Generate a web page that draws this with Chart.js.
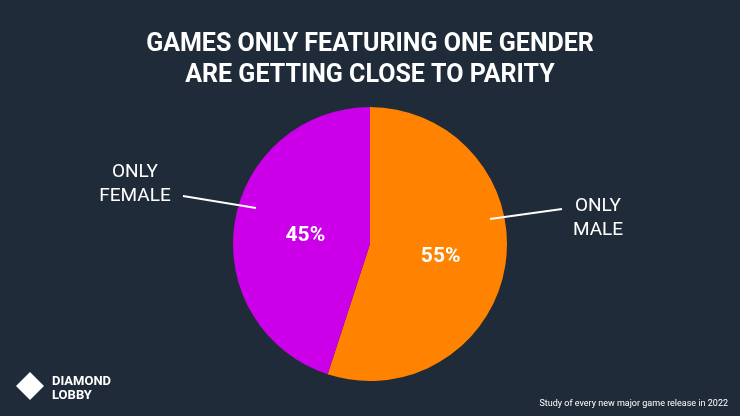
<!DOCTYPE html>
<html><head><meta charset="utf-8">
<script src="https://cdn.jsdelivr.net/npm/chart.js@4"></script>
<style>html,body{margin:0;padding:0;background:#1f2b39;}#w{width:740px;height:416px;position:relative}</style>
</head><body><div id="w"><canvas id="c"></canvas></div>
<script>
const categories = ["ONLY MALE", "ONLY FEMALE"];
const values = [55, 45];
const colors = ["#ff8200", "#cc00e8"];
const titleLines = ["GAMES ONLY FEATURING ONE GENDER", "ARE GETTING CLOSE TO PARITY"];
const note = "Study of every new major game release in 2022";

const overlay = {
  id: 'overlay',
  afterDraw(chart) {
    const ctx = chart.ctx;
    ctx.save();
    ctx.fillStyle = '#fff';
    ctx.textAlign = 'center';
    ctx.textBaseline = 'middle';
    ctx.font = 'bold 25px Roboto';
    ctx.fillText(titleLines[0], 370, 45);
    ctx.fillText(titleLines[1], 370, 76);
    const meta = chart.getDatasetMeta(0);
    ctx.font = 'bold 21px Roboto';
    meta.data.forEach((arc, i) => {
      const a = (arc.startAngle + arc.endAngle) / 2;
      const r = arc.outerRadius * 0.5;
      ctx.fillText(values[i] + '%', arc.x + Math.cos(a) * r + 3, arc.y + Math.sin(a) * r + 2);
    });
    ctx.font = '19px Roboto';
    ctx.fillText('ONLY', 598, 206);
    ctx.fillText('MALE', 598, 230);
    ctx.fillText('ONLY', 135, 172);
    ctx.fillText('FEMALE', 135, 196);
    ctx.strokeStyle = '#fff';
    ctx.lineWidth = 2;
    ctx.beginPath();
    ctx.moveTo(490, 219); ctx.lineTo(562, 209);
    ctx.moveTo(183, 196); ctx.lineTo(256, 208);
    ctx.stroke();
    ctx.textAlign = 'right';
    ctx.font = '9px Roboto';
    ctx.fillText(note, 728, 404);
    ctx.textAlign = 'left';
    ctx.font = 'bold 13px Roboto';
    ctx.fillText('DIAMOND', 52, 382);
    ctx.fillText('LOBBY', 52, 396);
    ctx.beginPath();
    ctx.moveTo(30, 372); ctx.lineTo(44, 386); ctx.lineTo(30, 400); ctx.lineTo(16, 386); ctx.closePath();
    ctx.fill();
    ctx.restore();
  }
};

new Chart(document.getElementById('c'), {
  type: 'pie',
  data: { labels: categories, datasets: [{ data: values, backgroundColor: colors, borderWidth: 0 }] },
  options: {
    responsive: true, maintainAspectRatio: false, animation: false,
    layout: { padding: { top: 107, bottom: 35 } },
    plugins: { legend: { display: false }, tooltip: { enabled: false } }
  },
  plugins: [overlay]
});
</script></body></html>
